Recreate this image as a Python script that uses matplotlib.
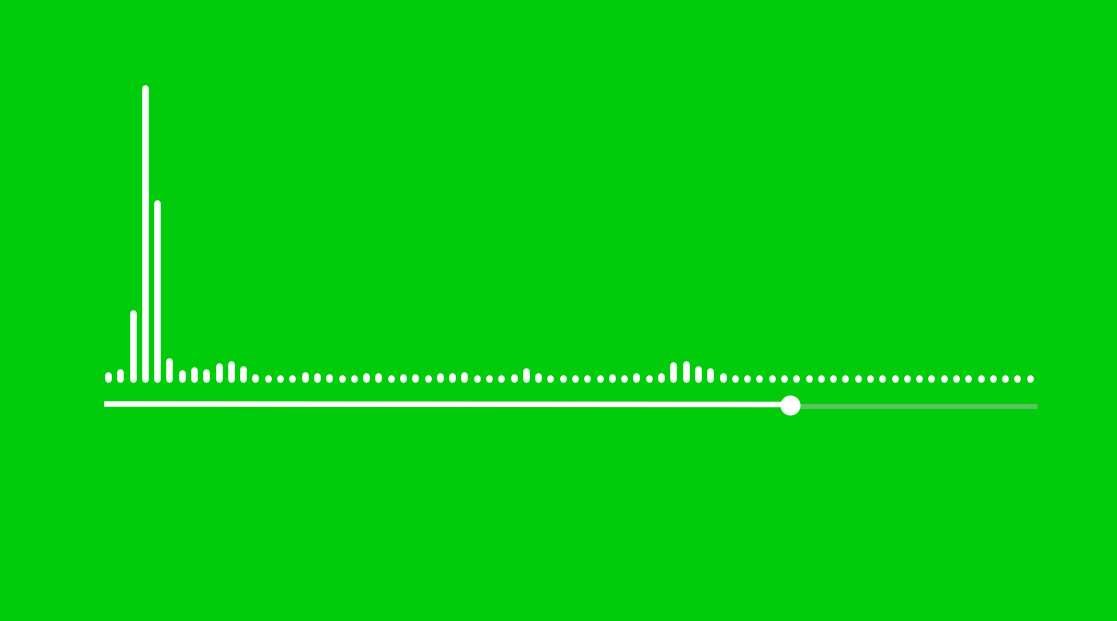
import numpy as np
import matplotlib
matplotlib.use('Agg')
import matplotlib.pyplot as plt

# waveform bar heights (px), one per bar
levels = [11, 13.5, 73, 298, 183, 25, 12.5, 15.7, 13.7, 20, 22, 16.7,
          8.5, 8, 8.3, 6.5, 11, 9.7, 9, 6.5, 7.3, 10, 9.7, 8.3,
          8.7, 8.7, 8, 10, 10.3, 11, 8, 8, 8, 9.3, 15, 10,
          8, 8, 8, 8, 8, 9.3, 8, 10.3, 8, 10.3, 21, 21.7, 17, 14.7, 10] + [8] * 25
# playback progress (fraction of track)
progress = 0.735

bg = '#00cc0c'
W, H = 1117, 621
fig = plt.figure(figsize=(W / 100, H / 100), dpi=100, facecolor=bg)
ax = fig.add_axes([0, 0, 1, 1])
ax.set_xlim(0, W)
ax.set_ylim(H, 0)
ax.set_facecolor(bg)
ax.axis('off')

base = 382.5
x0, step = 108, 12.29
bw = 6.6  # bar width in px
lw = bw * 72 / 100
r = bw / 2
xs = x0 + step * np.arange(len(levels))
for x, h in zip(xs, levels):
    bot = base - r
    top = min(base - h + r, bot - 0.8)
    ax.plot([x, x], [bot, top], color='white', lw=lw, solid_capstyle='round')

# slider
sx0, sx1, sy = 104, 1037, 404.5
knob = sx0 + progress * (sx1 - sx0)
ax.plot([knob, sx1], [sy + 1, sy + 1], color='#5cc45c', lw=5 * 0.72,
        solid_capstyle='butt')
ax.plot([sx0, knob], [sy - 0.5, sy], color='white', lw=5.5 * 0.72, solid_capstyle='butt')
ax.scatter([knob], [sy], s=(20 * 0.72) ** 2, color='white', zorder=5, linewidths=0)

fig.savefig('out.png', dpi=100, facecolor=bg)
